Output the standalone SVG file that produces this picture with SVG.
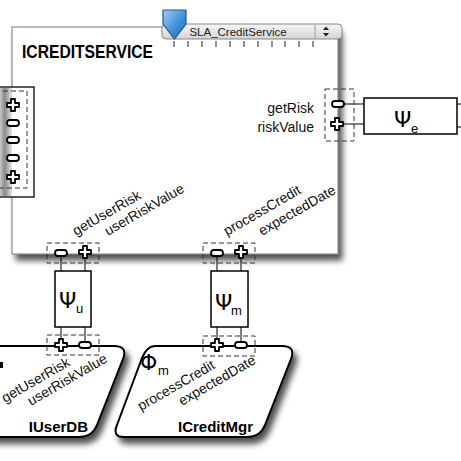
<svg xmlns="http://www.w3.org/2000/svg" width="461" height="461" viewBox="0 0 461 461">
<style>
.lbl{font-family:"Liberation Sans",Arial,sans-serif;font-size:14px;fill:#111}
.bold{font-family:"Liberation Sans",Arial,sans-serif;font-weight:bold;fill:#000}
.psi{font-family:"DejaVu Sans","Liberation Sans",sans-serif;font-size:22px;fill:#000}
.sub{font-family:"Liberation Sans",Arial,sans-serif;font-size:13px;fill:#000}
.dash{fill:none;stroke:#333;stroke-width:1;stroke-dasharray:5,3}
.box{fill:#fff;stroke:#000;stroke-width:1.5}
.wire{stroke:#000;stroke-width:1;fill:none}
.tick{stroke:#555;stroke-width:1.3}
</style>
<defs>
<filter id="sh" x="-20%" y="-20%" width="150%" height="150%">
<feGaussianBlur in="SourceAlpha" stdDeviation="3"/>
<feOffset dx="4" dy="6" result="b"/>
<feComponentTransfer><feFuncA type="linear" slope="0.7"/></feComponentTransfer>
<feMerge><feMergeNode/><feMergeNode in="SourceGraphic"/></feMerge>
</filter>
<linearGradient id="bar" x1="0" y1="0" x2="0" y2="1">
<stop offset="0" stop-color="#f6f6f6"/><stop offset="1" stop-color="#d4d4d4"/>
</linearGradient>
<linearGradient id="blue" x1="0" y1="0" x2="1" y2="1">
<stop offset="0" stop-color="#9fcdf2"/><stop offset="0.6" stop-color="#3c8ad6"/><stop offset="1" stop-color="#2a6fb8"/>
</linearGradient>
<linearGradient id="edge" x1="0" y1="0" x2="1" y2="0">
<stop offset="0" stop-color="#c8c8c8"/><stop offset="0.4" stop-color="#8a8a8a"/><stop offset="1" stop-color="#e4e4e4"/>
</linearGradient>
<g id="plus"><path d="M-2,-6h4v4h4v4h-4v4h-4v-4h-4v-4h4z" fill="#fff" stroke="#000" stroke-width="1.8" stroke-linejoin="round"/></g>
<g id="minus"><rect x="-6" y="-3" width="12" height="6" rx="3" fill="#fff" stroke="#000" stroke-width="1.8"/></g>
</defs>

<!-- Main component -->
<g id="ICreditService">
<rect x="12" y="27" width="326" height="227" fill="#fff" stroke="#777" stroke-width="1" filter="url(#sh)"/>
<text class="bold" x="22" y="58" font-size="18" textLength="131" lengthAdjust="spacingAndGlyphs">ICREDITSERVICE</text>
</g>

<!-- SLA selector -->
<g id="SLA">
<rect x="162" y="24" width="180" height="15" rx="4" fill="url(#bar)" stroke="#888" stroke-width="1"/>
<line x1="315" y1="25" x2="315" y2="38" stroke="#999"/>
<text x="238" y="36" text-anchor="middle" font-family="Liberation Sans,Arial,sans-serif" font-size="11.5" fill="#222">SLA_CreditService</text>
<path d="M323,30h6l-3,-3.5z M323,33h6l-3,3.5z" fill="#222"/>
<path d="M163,10H186V24L174.5,39L163,24Z" fill="url(#blue)" stroke="#1d5a99" stroke-width="1.2"/>
<g class="tick">
<line x1="174" y1="41" x2="174" y2="47"/><line x1="188" y1="41" x2="188" y2="47"/><line x1="202" y1="41" x2="202" y2="47"/><line x1="216" y1="41" x2="216" y2="47"/><line x1="230" y1="41" x2="230" y2="47"/><line x1="244" y1="41" x2="244" y2="47"/><line x1="258" y1="41" x2="258" y2="47"/><line x1="272" y1="41" x2="272" y2="47"/><line x1="285" y1="41" x2="285" y2="47"/><line x1="299" y1="41" x2="299" y2="47"/><line x1="313" y1="41" x2="313" y2="47"/>
</g>
</g>

<!-- Left port block -->
<g id="leftPorts">
<rect x="-5" y="87" width="39" height="110" fill="#fff" stroke="#000" stroke-width="1.3"/>
<rect x="0" y="88" width="12" height="108" fill="url(#edge)"/>
<rect x="-5" y="91" width="32" height="97" class="dash"/>
<use href="#plus" x="13" y="105"/>
<use href="#minus" x="13" y="123"/>
<use href="#minus" x="13" y="140"/>
<use href="#minus" x="13" y="158"/>
<use href="#plus" x="13" y="177"/>
</g>

<!-- Lower components -->
<g id="IUserDB">
<path d="M-40,346H114Q128,346 123,359L97,425Q92,437 80,437H-75Z" fill="#fff" stroke="#000" stroke-width="2" filter="url(#sh)"/>
<rect x="0" y="362" width="3" height="6" fill="#000"/>
<text class="bold" x="88" y="432" font-size="15" text-anchor="end">IUserDB</text>
<text class="lbl" transform="translate(5,403) rotate(-30)">getUserRisk</text>
<text class="lbl" transform="translate(31,406) rotate(-30)">userRiskValue</text>
</g>
<g id="ICreditMgr">
<path d="M155,346H282Q296,346 291,359L265,425Q260,437 248,437H124Q112,437 117,425L142,358Q147,346 155,346Z" fill="#fff" stroke="#000" stroke-width="2" filter="url(#sh)"/>
<text class="psi" x="140" y="370">Φ</text><text class="sub" x="158" y="375">m</text>
<text class="bold" x="253" y="432" font-size="15" text-anchor="end">ICreditMgr</text>
<text class="lbl" transform="translate(141,411) rotate(-30)">processCredit</text>
<text class="lbl" transform="translate(182,406) rotate(-30)">expectedDate</text>
</g>

<!-- Connectors -->
<g id="connectors">
<path class="wire" d="M344,104H364M344,124H364M457,104H461M457,127H461"/>
<path class="wire" d="M61,255V271M85,255V271M61,327V342M85,327V342"/>
<path class="wire" d="M217,255V271M241,255V271M217,327V342M241,327V342"/>
</g>

<!-- Psi boxes -->
<g id="PsiE">
<rect x="364" y="98" width="93" height="36" class="box"/>
<text class="psi" x="394" y="127">Ψ</text><text class="sub" x="411" y="133">e</text>
</g>
<g id="PsiU">
<rect x="55" y="271" width="36" height="56" class="box"/>
<text class="psi" x="59" y="308">Ψ</text><text class="sub" x="76" y="313">u</text>
</g>
<g id="PsiM">
<rect x="211" y="271" width="37" height="56" class="box"/>
<text class="psi" x="215" y="310">Ψ</text><text class="sub" x="231" y="315">m</text>
</g>

<!-- Port groups -->
<g id="portsRisk">
<rect x="325" y="89" width="29" height="52" class="dash"/>
<use href="#minus" x="338" y="104"/>
<use href="#plus" x="337" y="124"/>
<text class="lbl" x="314" y="113" text-anchor="end">getRisk</text>
<text class="lbl" x="314" y="132" text-anchor="end">riskValue</text>
</g>
<g id="portsUserTop">
<rect x="47" y="243" width="52" height="20" class="dash"/>
<use href="#minus" x="61" y="253"/>
<use href="#plus" x="85" y="252"/>
<text class="lbl" transform="translate(76,236) rotate(-30)">getUserRisk</text>
<text class="lbl" transform="translate(108,236) rotate(-30)">userRiskValue</text>
</g>
<g id="portsUserBottom">
<rect x="47" y="335" width="52" height="20" class="dash"/>
<use href="#plus" x="61" y="345"/>
<use href="#minus" x="85" y="345"/>
</g>
<g id="portsMgrTop">
<rect x="203" y="243" width="52" height="20" class="dash"/>
<use href="#minus" x="217" y="253"/>
<use href="#plus" x="241" y="252"/>
<text class="lbl" transform="translate(227,236) rotate(-30)">processCredit</text>
<text class="lbl" transform="translate(262,236) rotate(-30)">expectedDate</text>
</g>
<g id="portsMgrBottom">
<rect x="203" y="336" width="52" height="20" class="dash"/>
<use href="#plus" x="217" y="345"/>
<use href="#minus" x="241" y="345"/>
</g>
</svg>
